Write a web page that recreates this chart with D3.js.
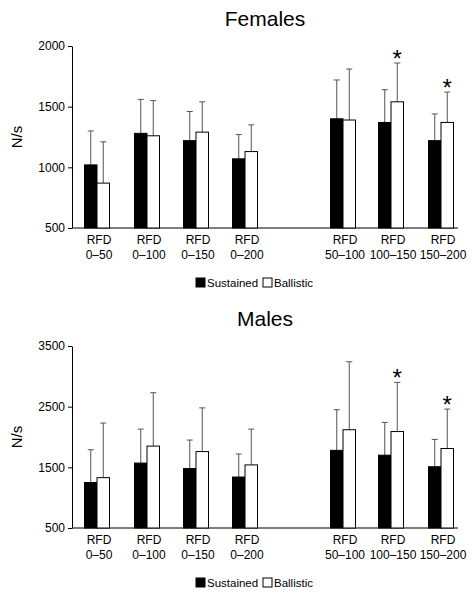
<!DOCTYPE html><html><head><script src="https://cdn.jsdelivr.net/npm/d3@7"></script>
<style>body{margin:0;background:#fff}text{font-family:Arial,"Liberation Sans",sans-serif}</style></head><body>
<script>
const categories=[["RFD","0–50"],["RFD","0–100"],["RFD","0–150"],["RFD","0–200"],["RFD","50–100"],["RFD","100–150"],["RFD","150–200"]];
const femSus=[1020,1280,1220,1070,1400,1370,1220], femSusErr=[1300,1560,1460,1270,1720,1640,1440];
const femBal=[870,1260,1290,1130,1390,1540,1370], femBalErr=[1210,1550,1540,1350,1810,1860,1620];
const malSus=[1250,1570,1480,1340,1780,1700,1510], malSusErr=[1790,2130,1950,1720,2450,2240,1960];
const malBal=[1330,1850,1760,1540,2120,2090,1810], malBalErr=[2230,2730,2480,2130,3240,2900,2460];
const stars=[false,false,false,false,false,true,true];
const femTicks=[500,1000,1500,2000], malTicks=[500,1500,2500,3500];
const centers=[97,147,196,245,343,391,441];
const svg=d3.select("body").append("svg").attr("width",474).attr("height",593);
function panel(title,top,dom,ticks,sus,susE,bal,balE){
  const g=svg.append("g");
  const y=d3.scaleLinear().domain(dom).range([top+182,top]);
  g.append("text").attr("x",265).attr("y",top-20).attr("text-anchor","middle").attr("font-size",21).text(title);
  g.append("g").attr("transform","translate(72,0)").call(d3.axisLeft(y).tickValues(ticks).tickFormat(d3.format("d")).tickSize(4).tickSizeOuter(0)).call(a=>{a.selectAll("text").attr("font-size",12).attr("fill","#000");a.select(".domain").attr("stroke","#000")});
  g.append("line").attr("x1",72).attr("x2",458).attr("y1",y(dom[0])).attr("y2",y(dom[0])).attr("stroke","#000");
  g.append("text").attr("transform",`translate(22,${top+91}) rotate(-90)`).attr("text-anchor","middle").attr("font-size",15).text("N/s");
  const bw=12.5;
  [[sus,susE,"#000",-bw],[bal,balE,"#fff",0]].forEach(([v,e,f,off])=>{
    v.forEach((d,i)=>{
      const cx=centers[i]+off+bw/2;
      g.append("line").attr("x1",cx).attr("x2",cx).attr("y1",y(d)).attr("y2",y(e[i])).attr("stroke","#555");
      g.append("line").attr("x1",cx-3).attr("x2",cx+3).attr("y1",y(e[i])).attr("y2",y(e[i])).attr("stroke","#555");
      g.append("rect").attr("x",centers[i]+off).attr("y",y(d)).attr("width",bw).attr("height",y(dom[0])-y(d)).attr("fill",f).attr("stroke","#000");
      if(off===0&&stars[i]) g.append("text").attr("x",cx).attr("y",y(e[i])+4).attr("text-anchor","middle").attr("font-size",24).text("*");
    });
  });
  categories.forEach((c,i)=>{
    g.append("text").attr("x",centers[i]+2).attr("y",top+198).attr("text-anchor","middle").attr("font-size",12).text(c[0]);
    g.append("text").attr("x",centers[i]+2).attr("y",top+213).attr("text-anchor","middle").attr("font-size",12).text(c[1]);
  });
  const ly=top+241;
  g.append("rect").attr("x",196).attr("y",ly-9).attr("width",9).attr("height",9).attr("fill","#000").attr("stroke","#000");
  g.append("text").attr("x",207).attr("y",ly).attr("font-size",11.5).text("Sustained");
  g.append("rect").attr("x",263).attr("y",ly-9).attr("width",9).attr("height",9).attr("fill","#fff").attr("stroke","#000");
  g.append("text").attr("x",274).attr("y",ly).attr("font-size",11.5).text("Ballistic");
}
panel("Females",46,[500,2000],femTicks,femSus,femSusErr,femBal,femBalErr);
panel("Males",346,[500,3500],malTicks,malSus,malSusErr,malBal,malBalErr);
</script></body></html>
